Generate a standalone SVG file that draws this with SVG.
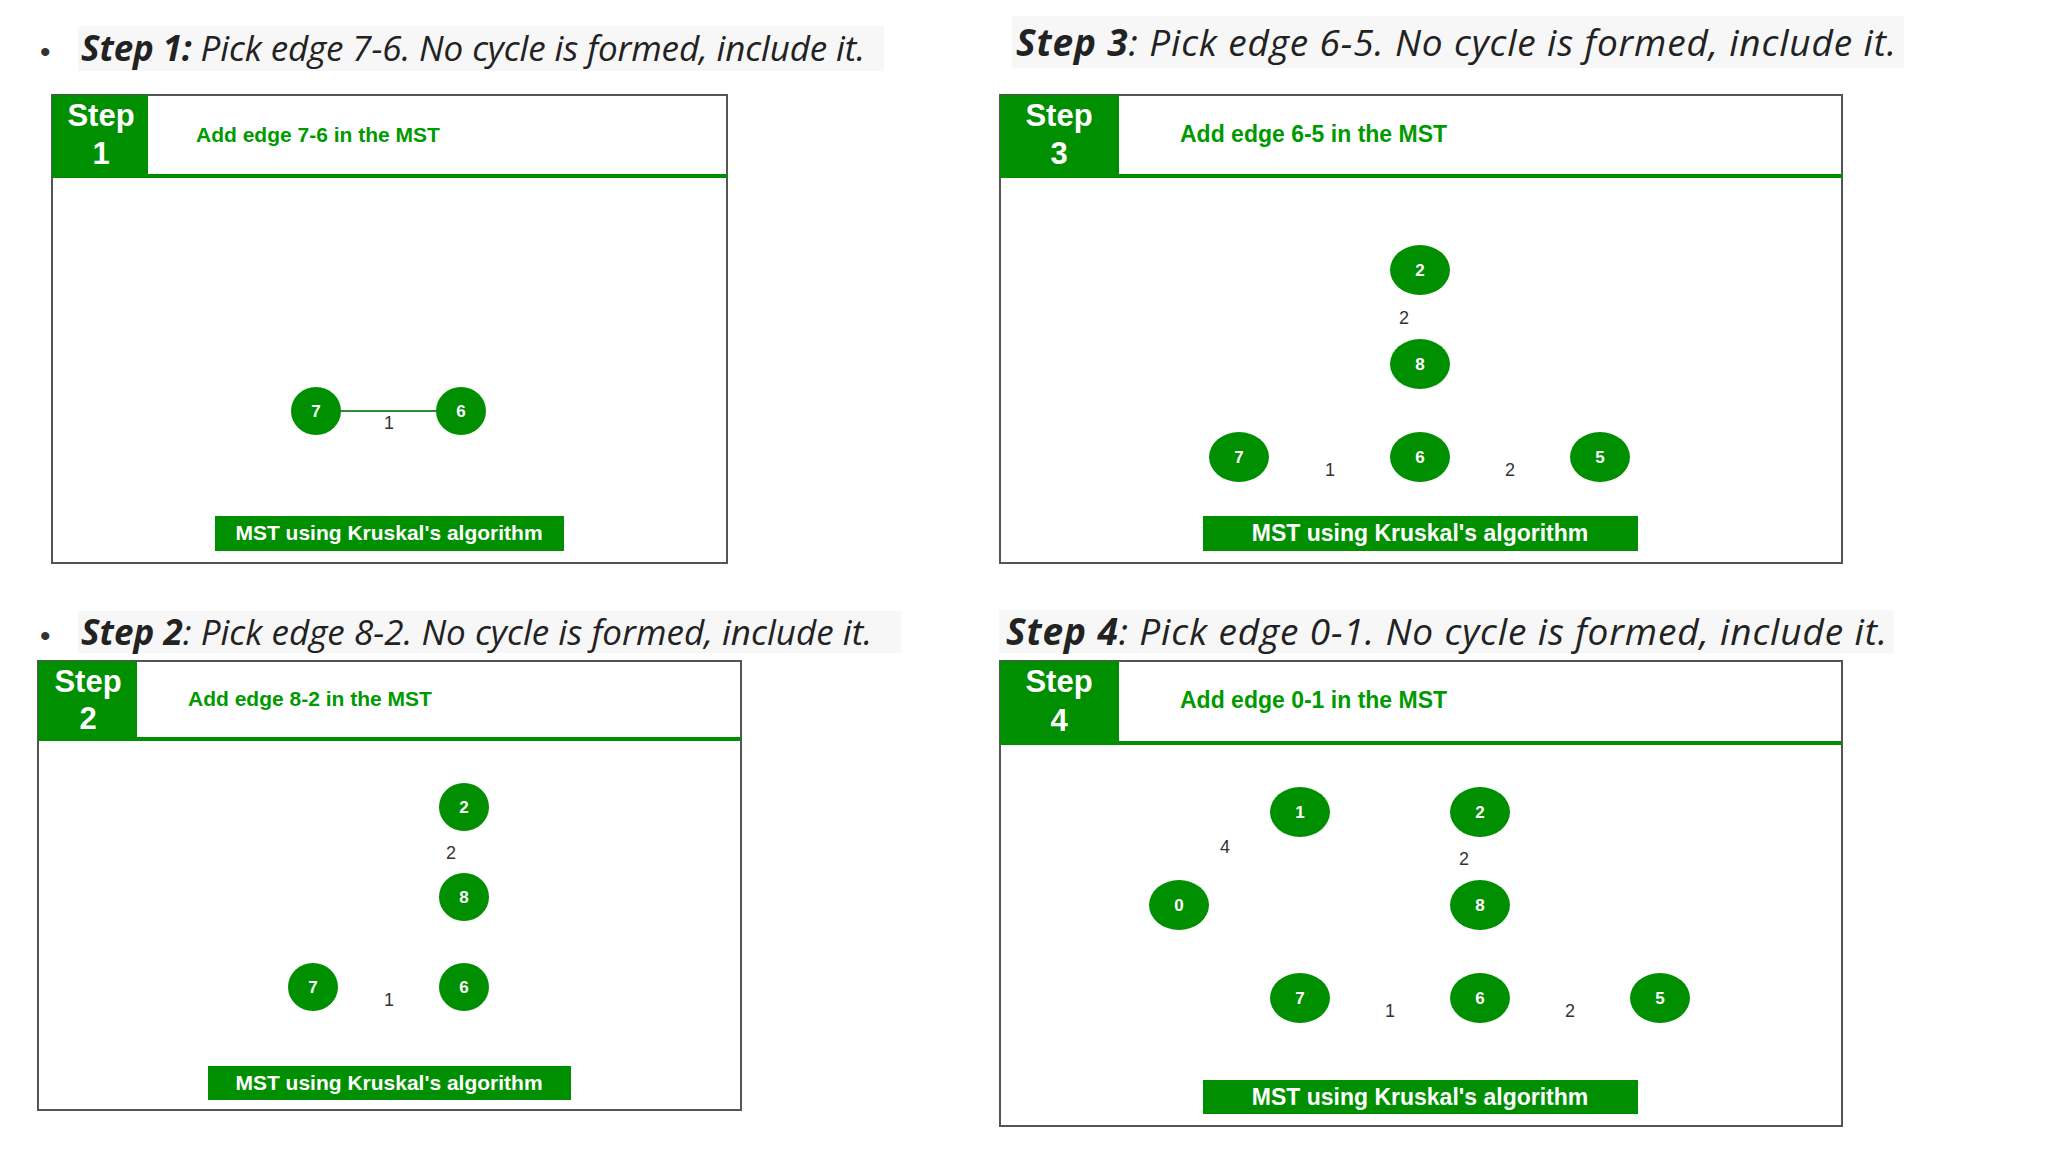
<svg xmlns="http://www.w3.org/2000/svg" width="2048" height="1152" viewBox="0 0 2048 1152">
<style>
.bg{fill:#f7f7f8}
.ttl{font-family:"Open Sans","Liberation Sans",sans-serif;font-style:italic;font-size:35px;fill:#222}
.ttl tspan.b{font-weight:bold}
.box{fill:#fff;stroke:#555;stroke-width:2}
.hdr{fill:#008f00}
.hl{stroke:#008f00;stroke-width:4}
.st{font-family:"Liberation Sans",Arial,sans-serif;font-weight:bold;font-size:31px;fill:#fff;text-anchor:middle}
.ht{font-family:"Liberation Sans",Arial,sans-serif;font-weight:bold;font-size:21px;fill:#009a00}
.nd{fill:#008f00}
.nt{font-family:"Liberation Sans",Arial,sans-serif;font-weight:bold;font-size:17px;fill:#fff;text-anchor:middle}
.el{stroke:#2e8b2e;stroke-width:2}
.lb{font-family:"Liberation Sans",Arial,sans-serif;font-size:18px;fill:#333;text-anchor:middle}
.ft{font-family:"Liberation Sans",Arial,sans-serif;font-weight:bold;font-size:21px;fill:#fff;text-anchor:middle}
.bul{font-family:"Liberation Sans",Arial,sans-serif;font-size:30px;fill:#333}
</style>
<rect width="2048" height="1152" fill="#fff"/>
<!-- titles -->
<g id="title1"><text class="bul" x="40" y="62">•</text><rect class="bg" x="78" y="26" width="806" height="45"/><text class="ttl" x="81" y="61" textLength="784"><tspan class="b">Step 1:</tspan> Pick edge 7-6. No cycle is formed, include it.</text></g>
<g id="title3"><rect class="bg" x="1012" y="16" width="892" height="52"/><text class="ttl" x="1016" y="56" style="font-size:37px" textLength="880"><tspan class="b">Step 3</tspan>: Pick edge 6-5. No cycle is formed, include it.</text></g>
<g id="title2"><text class="bul" x="40" y="646">•</text><rect class="bg" x="78" y="611" width="823" height="42"/><text class="ttl" x="81" y="645" textLength="791"><tspan class="b">Step 2</tspan>:  Pick edge 8-2. No cycle is formed, include it.</text></g>
<g id="title4"><rect class="bg" x="999" y="610" width="895" height="43"/><text class="ttl" x="1006" y="645" style="font-size:37px" textLength="881"><tspan class="b">Step 4</tspan>: Pick edge 0-1. No cycle is formed, include it.</text></g>

<!-- panel 1 -->
<g id="panel1">
<rect class="box" x="52" y="95" width="675" height="468"/>
<rect class="hdr" x="52" y="95" width="96" height="81"/>
<line class="hl" x1="52" y1="176" x2="727" y2="176"/>
<text class="st" x="101" y="126">Step</text><text class="st" x="101" y="164">1</text>
<text class="ht" x="196" y="142">Add edge 7-6 in the MST</text>
<rect class="hdr" x="215" y="516" width="349" height="35"/>
<text class="ft" x="389" y="540">MST using Kruskal's algorithm</text>
</g>
<g id="connectors">
<line class="el" x1="316" y1="411" x2="461" y2="411"/>
<line class="el" x1="1420" y1="270" x2="1420" y2="364"/>
<line class="el" x1="1239" y1="457" x2="1600" y2="457"/>
<line class="el" x1="464" y1="807" x2="464" y2="897"/>
<line class="el" x1="313" y1="987" x2="464" y2="987"/>
<line class="el" x1="1300" y1="812" x2="1179" y2="905"/>
<line class="el" x1="1480" y1="812" x2="1480" y2="905"/>
<line class="el" x1="1300" y1="998" x2="1660" y2="998"/>
</g>
<g id="p1nodes">
<g id="p1n7"><ellipse class="nd" cx="316" cy="411" rx="25" ry="24"/><text class="nt" x="316" y="417">7</text></g>
<g id="p1n6"><ellipse class="nd" cx="461" cy="411" rx="25" ry="24"/><text class="nt" x="461" y="417">6</text></g>
<text class="lb" x="389" y="429">1</text>
</g>

<!-- panel 3 -->
<g id="panel3">
<rect class="box" x="1000" y="95" width="842" height="468"/>
<rect class="hdr" x="1000" y="95" width="119" height="81"/>
<line class="hl" x1="1000" y1="176" x2="1842" y2="176"/>
<text class="st" x="1059" y="126">Step</text><text class="st" x="1059" y="164">3</text>
<text class="ht" x="1180" y="142" style="font-size:23px">Add edge 6-5 in the MST</text>
<rect class="hdr" x="1203" y="516" width="435" height="35"/>
<text class="ft" x="1420" y="541" style="font-size:23px">MST using Kruskal's algorithm</text>
</g>
<g id="p3nodes">
<g id="p3n2"><ellipse class="nd" cx="1420" cy="270" rx="30" ry="25"/><text class="nt" x="1420" y="276">2</text></g>
<g id="p3n8"><ellipse class="nd" cx="1420" cy="364" rx="30" ry="25"/><text class="nt" x="1420" y="370">8</text></g>
<g id="p3n7"><ellipse class="nd" cx="1239" cy="457" rx="30" ry="25"/><text class="nt" x="1239" y="463">7</text></g>
<g id="p3n6"><ellipse class="nd" cx="1420" cy="457" rx="30" ry="25"/><text class="nt" x="1420" y="463">6</text></g>
<g id="p3n5"><ellipse class="nd" cx="1600" cy="457" rx="30" ry="25"/><text class="nt" x="1600" y="463">5</text></g>
<text class="lb" x="1404" y="324">2</text>
<text class="lb" x="1330" y="476">1</text>
<text class="lb" x="1510" y="476">2</text>
</g>

<!-- panel 2 -->
<g id="panel2">
<rect class="box" x="38" y="661" width="703" height="449"/>
<rect class="hdr" x="38" y="661" width="99" height="78"/>
<line class="hl" x1="38" y1="739" x2="741" y2="739"/>
<text class="st" x="88" y="692">Step</text><text class="st" x="88" y="729">2</text>
<text class="ht" x="188" y="706">Add edge 8-2 in the MST</text>
<rect class="hdr" x="208" y="1066" width="363" height="34"/>
<text class="ft" x="389" y="1090">MST using Kruskal's algorithm</text>
</g>
<g id="p2nodes">
<g id="p2n2"><ellipse class="nd" cx="464" cy="807" rx="25" ry="24"/><text class="nt" x="464" y="813">2</text></g>
<g id="p2n8"><ellipse class="nd" cx="464" cy="897" rx="25" ry="24"/><text class="nt" x="464" y="903">8</text></g>
<g id="p2n7"><ellipse class="nd" cx="313" cy="987" rx="25" ry="24"/><text class="nt" x="313" y="993">7</text></g>
<g id="p2n6"><ellipse class="nd" cx="464" cy="987" rx="25" ry="24"/><text class="nt" x="464" y="993">6</text></g>
<text class="lb" x="451" y="859">2</text>
<text class="lb" x="389" y="1006">1</text>
</g>

<!-- panel 4 -->
<g id="panel4">
<rect class="box" x="1000" y="661" width="842" height="465"/>
<rect class="hdr" x="1000" y="661" width="119" height="82"/>
<line class="hl" x1="1000" y1="743" x2="1842" y2="743"/>
<text class="st" x="1059" y="692">Step</text><text class="st" x="1059" y="731">4</text>
<text class="ht" x="1180" y="708" style="font-size:23px">Add edge 0-1 in the MST</text>
<rect class="hdr" x="1203" y="1080" width="435" height="34"/>
<text class="ft" x="1420" y="1105" style="font-size:23px">MST using Kruskal's algorithm</text>
</g>
<g id="p4nodes">
<g id="p4n1"><ellipse class="nd" cx="1300" cy="812" rx="30" ry="25"/><text class="nt" x="1300" y="818">1</text></g>
<g id="p4n0"><ellipse class="nd" cx="1179" cy="905" rx="30" ry="25"/><text class="nt" x="1179" y="911">0</text></g>
<g id="p4n2"><ellipse class="nd" cx="1480" cy="812" rx="30" ry="25"/><text class="nt" x="1480" y="818">2</text></g>
<g id="p4n8"><ellipse class="nd" cx="1480" cy="905" rx="30" ry="25"/><text class="nt" x="1480" y="911">8</text></g>
<g id="p4n7"><ellipse class="nd" cx="1300" cy="998" rx="30" ry="25"/><text class="nt" x="1300" y="1004">7</text></g>
<g id="p4n6"><ellipse class="nd" cx="1480" cy="998" rx="30" ry="25"/><text class="nt" x="1480" y="1004">6</text></g>
<g id="p4n5"><ellipse class="nd" cx="1660" cy="998" rx="30" ry="25"/><text class="nt" x="1660" y="1004">5</text></g>
<text class="lb" x="1225" y="853">4</text>
<text class="lb" x="1464" y="865">2</text>
<text class="lb" x="1390" y="1017">1</text>
<text class="lb" x="1570" y="1017">2</text>
</g>
</svg>
